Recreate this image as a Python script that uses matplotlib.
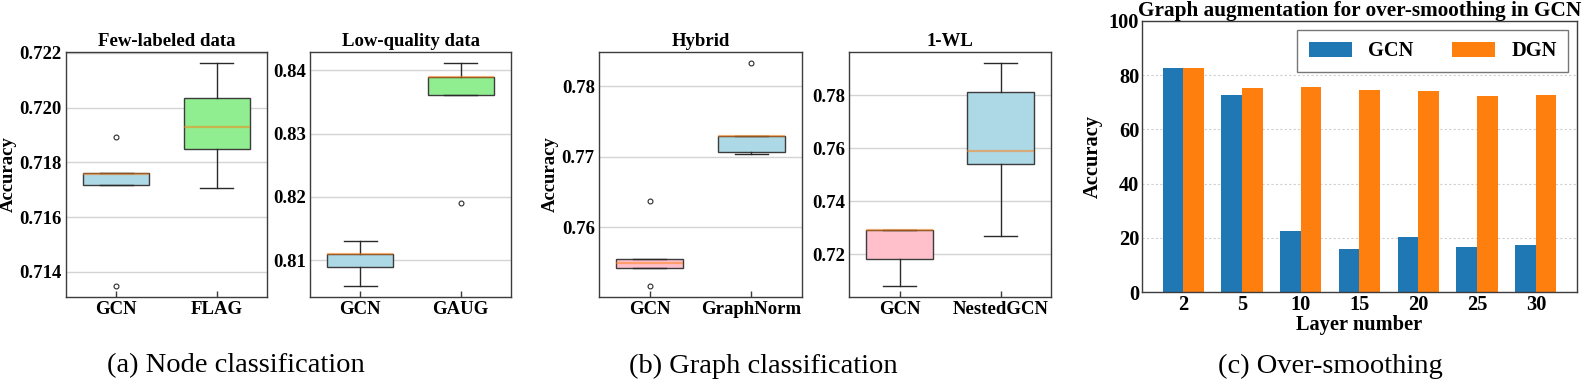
import matplotlib
matplotlib.use("Agg")
import matplotlib.pyplot as plt
import numpy as np

plt.rcParams['font.family'] = ['Liberation Serif', 'DejaVu Serif']
plt.rcParams['font.weight'] = 'bold'
plt.rcParams['axes.labelweight'] = 'bold'
plt.rcParams['axes.titleweight'] = 'bold'

# ---------------- data ----------------
# Box-plot panels (statistics)
p1_title = "Few-labeled data"
p1_labels = ["GCN", "FLAG"]
p1_q1 = [0.71718, 0.71849]
p1_med = [0.71756, 0.71929]
p1_q3 = [0.71762, 0.72035]
p1_lo = [0.71718, 0.71706]
p1_hi = [0.71762, 0.72162]
p1_fliers = [[0.71349, 0.71893], []]
p1_colors = ["lightblue", "lightgreen"]
p1_yticks = [0.714, 0.716, 0.718, 0.720, 0.722]

p2_title = "Low-quality data"
p2_labels = ["GCN", "GAUG"]
p2_q1 = [0.8089, 0.83605]
p2_med = [0.81095, 0.8390]
p2_q3 = [0.81095, 0.8390]
p2_lo = [0.80594, 0.83605]
p2_hi = [0.81305, 0.84115]
p2_fliers = [[], [0.8190]]
p2_colors = ["lightblue", "lightgreen"]
p2_yticks = [0.81, 0.82, 0.83, 0.84]

p3_title = "Hybrid"
p3_labels = ["GCN", "GraphNorm"]
p3_q1 = [0.75418, 0.77071]
p3_med = [0.75489, 0.77298]
p3_q3 = [0.75550, 0.77298]
p3_lo = [0.75418, 0.77043]
p3_hi = [0.75550, 0.77298]
p3_fliers = [[0.75167, 0.76369], [0.78326]]
p3_colors = ["pink", "lightblue"]
p3_yticks = [0.76, 0.77, 0.78]

p4_title = "1-WL"
p4_labels = ["GCN", "NestedGCN"]
p4_q1 = [0.71812, 0.75397]
p4_med = [0.72904, 0.75887]
p4_q3 = [0.72904, 0.78102]
p4_lo = [0.70806, 0.72682]
p4_hi = [0.72904, 0.79205]
p4_fliers = [[], []]
p4_colors = ["pink", "lightblue"]
p4_yticks = [0.72, 0.74, 0.76, 0.78]

# Bar panel
layers = ["2", "5", "10", "15", "20", "25", "30"]
gcn_acc = [82.6, 72.7, 22.6, 15.7, 20.4, 16.7, 17.2]
dgn_acc = [82.6, 75.1, 75.7, 74.7, 74.3, 72.4, 72.7]

captions = ["(a) Node classification", "(b) Graph classification", "(c) Over-smoothing"]

# ---------------- figure ----------------
W, H = 1584, 387
fig = plt.figure(figsize=(W / 100, H / 100), dpi=100)


def add_ax(l, r, t, b):
    return fig.add_axes([l / W, 1 - b / H, (r - l) / W, (b - t) / H])


EDGE = "#3c3c3c"
FS = 13.5


def style_axes(ax):
    for s in ax.spines.values():
        s.set_color(EDGE)
        s.set_linewidth(1.0)
    ax.tick_params(axis="x", direction="in", length=4, width=1, color=EDGE, pad=3, labelsize=FS)
    ax.tick_params(axis="y", direction="in", length=0, pad=3, labelsize=FS)


def box_panel(ax, title, labels, q1, med, q3, lo, hi, fliers, colors, yticks, fmt, ylabel):
    stats = []
    for i in range(len(labels)):
        stats.append(dict(med=med[i], q1=q1[i], q3=q3[i], whislo=lo[i], whishi=hi[i],
                          fliers=fliers[i], label=labels[i]))
    bp = ax.bxp(stats, positions=range(len(labels)), widths=0.66, patch_artist=True,
                capwidths=0.33,
                boxprops=dict(edgecolor=EDGE, linewidth=1.0),
                whiskerprops=dict(color="#2a2a2a", linewidth=1.0),
                capprops=dict(color="#2a2a2a", linewidth=1.0),
                medianprops=dict(color="#ff7f0e", alpha=0.5, linewidth=1.6),
                flierprops=dict(marker="o", markersize=3.5, markerfacecolor="none",
                                markeredgecolor="#2a2a2a", markeredgewidth=0.8))
    for patch, c in zip(bp["boxes"], colors):
        patch.set_facecolor(c)
    ax.set_xlim(-0.5, len(labels) - 0.5)
    allv = list(lo) + list(hi) + [v for f in fliers for v in f]
    mn, mx = min(allv), max(allv)
    m = 0.05 * (mx - mn)
    ax.set_ylim(mn - m, mx + m)
    ax.set_yticks(yticks)
    ax.set_yticklabels([fmt.format(v) for v in yticks])
    ax.yaxis.grid(True, color="#d4d4d4", linewidth=1.0)
    ax.set_axisbelow(True)
    ax.set_title(title, fontsize=FS, pad=4)
    if ylabel:
        ax.set_ylabel("Accuracy", fontsize=FS, labelpad=2)
    style_axes(ax)


ax1 = add_ax(66, 267, 52, 297)
box_panel(ax1, p1_title, p1_labels, p1_q1, p1_med, p1_q3, p1_lo, p1_hi, p1_fliers,
          p1_colors, p1_yticks, "{:.3f}", True)
ax2 = add_ax(310, 511, 52, 297)
box_panel(ax2, p2_title, p2_labels, p2_q1, p2_med, p2_q3, p2_lo, p2_hi, p2_fliers,
          p2_colors, p2_yticks, "{:.2f}", False)
ax3 = add_ax(599, 802, 52, 297)
box_panel(ax3, p3_title, p3_labels, p3_q1, p3_med, p3_q3, p3_lo, p3_hi, p3_fliers,
          p3_colors, p3_yticks, "{:.2f}", True)
ax4 = add_ax(849, 1051, 52, 297)
box_panel(ax4, p4_title, p4_labels, p4_q1, p4_med, p4_q3, p4_lo, p4_hi, p4_fliers,
          p4_colors, p4_yticks, "{:.2f}", False)

# Bar panel
ax5 = add_ax(1142, 1577, 21, 292)
x = np.arange(len(layers))
w = 0.35
ax5.bar(x - w / 2, gcn_acc, w, color="#1f77b4", label="GCN")
ax5.bar(x + w / 2, dgn_acc, w, color="#ff7f0e", label="DGN")
ax5.set_xticks(x)
ax5.set_xticklabels(layers)
ax5.set_ylim(0, 100)
ax5.set_yticks([0, 20, 40, 60, 80, 100])
ax5.set_xlim(-0.7, len(layers) - 0.3)
ax5.yaxis.grid(True, color="#d0d0d0", linestyle=(0, (2, 2)), linewidth=0.8)
ax5.set_axisbelow(True)
FS5 = 14.7
ax5.set_title("Graph augmentation for over-smoothing in GCN", fontsize=15.3, pad=3)
ax5.set_ylabel("Accuracy", fontsize=FS5, labelpad=4)
ax5.set_xlabel("Layer number", fontsize=FS5, labelpad=0)
style_axes(ax5)
ax5.tick_params(labelsize=FS5, pad=2)
leg = ax5.legend(loc="upper right", ncol=2, fontsize=FS5, frameon=True, fancybox=False,
                 edgecolor="#555555", handlelength=2.1, handleheight=0.75,
                 columnspacing=1.9, borderpad=0.55, borderaxespad=0,
                 bbox_to_anchor=(0.979, 0.967))
leg.get_frame().set_linewidth(1.0)

# captions
fig.text(236 / W, 1 - 366 / H, captions[0], ha="center", va="center", fontsize=20.5, fontweight="normal")
fig.text(763 / W, 1 - 366 / H, captions[1], ha="center", va="center", fontsize=20.5, fontweight="normal")
fig.text(1330 / W, 1 - 366 / H, captions[2], ha="center", va="center", fontsize=20.5, fontweight="normal")

fig.savefig("out.png", dpi=100)
